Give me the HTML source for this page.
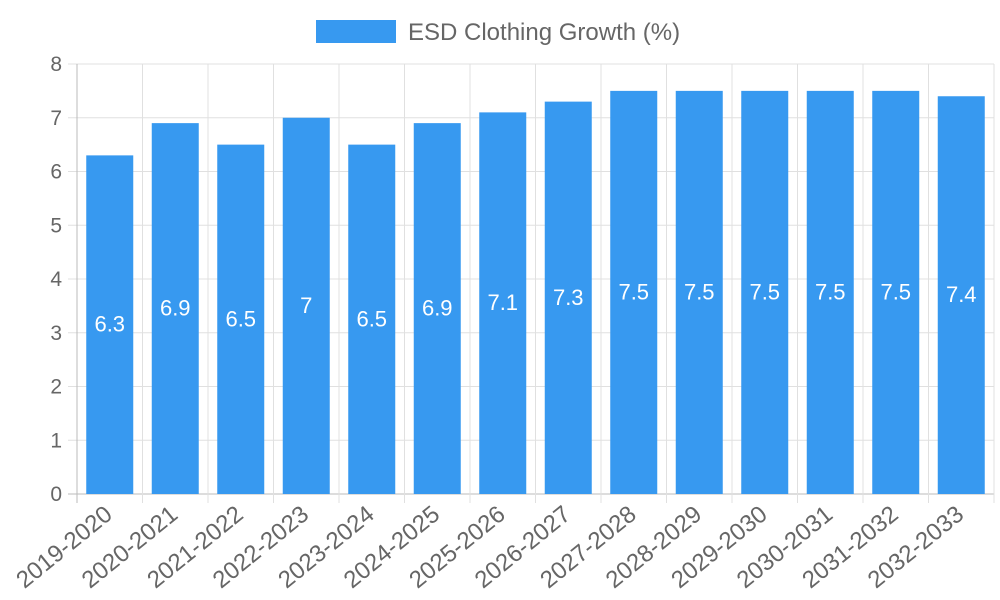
<!DOCTYPE html>
<html><head><meta charset="utf-8"><style>
html,body{margin:0;padding:0;background:#fff;}
svg{display:block;font-family:"Liberation Sans",Arial,sans-serif;}
</style></head><body>
<svg id="chart" width="1000" height="600" viewBox="0 0 1000 600">
  <g>
    <rect x="316" y="20" width="80" height="23" fill="#3799f0"/>
    <text x="408" y="40" font-size="24" fill="#666">ESD Clothing Growth (%)</text>
  </g>
  <g id="grid"></g>
  <g id="bars"></g>
  <g id="axes"></g>
</svg>
<script>
const categories = ["2019-2020","2020-2021","2021-2022","2022-2023","2023-2024","2024-2025","2025-2026","2026-2027","2027-2028","2028-2029","2029-2030","2030-2031","2031-2032","2032-2033"];
const values = [6.3,6.9,6.5,7,6.5,6.9,7.1,7.3,7.5,7.5,7.5,7.5,7.5,7.4];
const yTicks = [0,1,2,3,4,5,6,7,8];

const NS="http://www.w3.org/2000/svg";
const L=77,R=994,T=64,B=494,yMax=8;
const band=(R-L)/categories.length, barW=47;
const y=v=>B-(v/yMax)*(B-T);
const xC=i=>L+band*(i+0.5);
function mk(tag,attrs,parent){const e=document.createElementNS(NS,tag);for(const k in attrs)e.setAttribute(k,attrs[k]);parent.appendChild(e);return e;}
const grid=document.getElementById('grid'),bars=document.getElementById('bars'),axes=document.getElementById('axes');

yTicks.forEach(t=>{
  const g=mk('line',{x1:L-9,x2:R,y1:y(t),y2:y(t),stroke:t===0?'#bbb':'#e0e0e0','stroke-width':1},grid);
  
  
  const tx=mk('text',{x:L-15,y:y(t)+7,'font-size':21,fill:'#666','text-anchor':'end'},axes);
  tx.textContent=t;
  
  
});
for(let i=0;i<=categories.length;i++){
  const x=L+band*i;
  const g=mk('line',{x1:x,x2:x,y1:T,y2:B+9,stroke:i===0?'#bbb':'#e0e0e0','stroke-width':1},grid);
  
  
}
categories.forEach((c,i)=>{
  const v=values[i];
  const r=mk('rect',{x:xC(i)-barW/2,y:y(v),width:barW,height:B-y(v),fill:'#3799f0'},bars);
  
  
  const vl=mk('text',{x:xC(i),y:(y(v)+B)/2+7,'font-size':22,fill:'#fff','text-anchor':'middle'},bars);
  vl.textContent=v;
  
  
  const xl=mk('text',{x:0,y:0,'font-size':24,fill:'#666','text-anchor':'end',transform:`translate(${xC(i)+4},${B+23}) rotate(-39)`},axes);
  xl.textContent=c;
  
  
});
</script>
</body></html>
